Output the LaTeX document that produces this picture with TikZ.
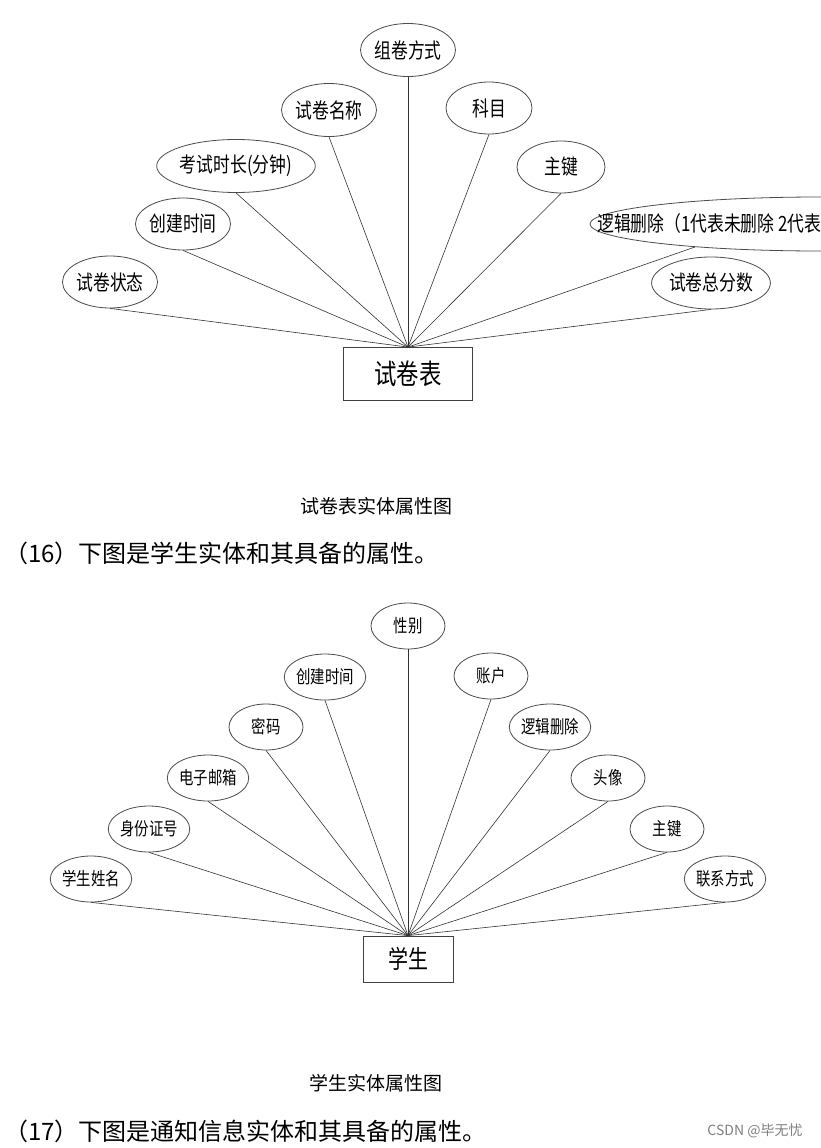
\documentclass[tikz,border=0pt]{standalone}
\usepackage{fontspec}
\usetikzlibrary{shapes.geometric}
\newfontfamily\cjk{Noto Sans CJK SC}
\newfontfamily\cjknarrow[FakeStretch=0.8]{Noto Sans CJK SC}
\begin{document}
\begin{tikzpicture}[x=1pt,y=-1pt,
  attr/.style={draw=black!70, line width=0.8pt, fill=white, ellipse, inner sep=0pt,
    font=\cjknarrow\fontsize{21pt}{21pt}\selectfont},
  attrS/.style={attr, minimum width=74pt, minimum height=46pt,
    font=\cjknarrow\fontsize{18pt}{18pt}\selectfont},
  ent/.style={draw=black!75, line width=0.8pt, fill=white, rectangle, inner sep=0pt},
  link/.style={draw=black!80, line width=0.6pt},
  bodytext/.style={anchor=west, inner sep=0pt, font=\cjk\fontsize{24pt}{24pt}\selectfont},
  captext/.style={inner sep=0pt, font=\cjk\fontsize{19pt}{19pt}\selectfont}]
\useasboundingbox (0,0) rectangle (820,1148);
\fill[white] (0,0) rectangle (820,1148);

% ---------- top diagram ----------
\node[ent, minimum width=129pt, minimum height=53pt,
  font=\cjknarrow\fontsize{28pt}{28pt}\selectfont] (tb) at (408,374) {试卷表};
\node[attr, minimum width=88pt, minimum height=52pt] (t1) at (110,282) {试卷状态};
\node[attr, minimum width=88pt, minimum height=52pt] (t2) at (183,224) {创建时间};
\node[attr, minimum width=126pt, minimum height=53pt] (t3) at (236,166) {考试时长(分钟)};
\node[attr, minimum width=86pt, minimum height=53pt] (t4) at (329,110) {试卷名称};
\node[attr, minimum width=88pt, minimum height=53pt] (t5) at (408,50) {组卷方式};
\node[attr, minimum width=86pt, minimum height=52pt] (t6) at (489,108) {科目};
\node[attr, minimum width=88pt, minimum height=52pt] (t7) at (561,167) {主键};
\node[attr, minimum width=460pt, minimum height=54pt] (t8) at (820,224) {};
\node[anchor=west, inner sep=0pt, font=\cjknarrow\fontsize{21pt}{21pt}\selectfont]
  (t8txt) at (597,224) {逻辑删除（1代表未删除 2代表已删除）};
\coordinate (t8c) at (695,247);
\node[attr, minimum width=97pt, minimum height=52pt] (t9) at (711,283) {试卷总分数};

\foreach \n in {t1,t2,t3,t4,t5,t6,t7,t9}
  \draw[link] (tb.north) -- (\n.south);
\draw[link] (tb.north) -- (t8c);

\node[captext] (cap1) at (376,506) {试卷表实体属性图};
\node[bodytext] (p16) at (4,553) {（16）下图是学生实体和其具备的属性。};

% ---------- student diagram ----------
\node[ent, minimum width=90pt, minimum height=46pt,
  font=\cjknarrow\fontsize{25pt}{25pt}\selectfont] (st) at (408,959) {学生};
\node[attrS] (s1) at (408,626) {性别};
\node[attrS] (s2) at (325,677) {创建时间};
\node[attrS] (s3) at (266,727) {密码};
\node[attrS] (s4) at (208,778) {电子邮箱};
\node[attrS] (s5) at (149,829) {身份证号};
\node[attrS] (s6) at (91,879) {学生姓名};
\node[attrS] (s7) at (491,676) {账户};
\node[attrS] (s8) at (550,727) {逻辑删除};
\node[attrS] (s9) at (608,778) {头像};
\node[attrS] (s10) at (667,829) {主键};
\node[attrS] (s11) at (725,879) {联系方式};

\foreach \n in {s1,s2,s3,s4,s5,s6,s7,s8,s9,s10,s11}
  \draw[link] (st.north) -- (\n.south);

\node[captext] (cap2) at (376,1083) {学生实体属性图};
\node[bodytext] (p17) at (4,1131) {（17）下图是通知信息实体和其具备的属性。};
\node[inner sep=0pt, text=black!50, font=\cjk\fontsize{14pt}{14pt}\selectfont]
  (wm) at (755,1131) {CSDN @毕无忧};
\end{tikzpicture}
\end{document}
